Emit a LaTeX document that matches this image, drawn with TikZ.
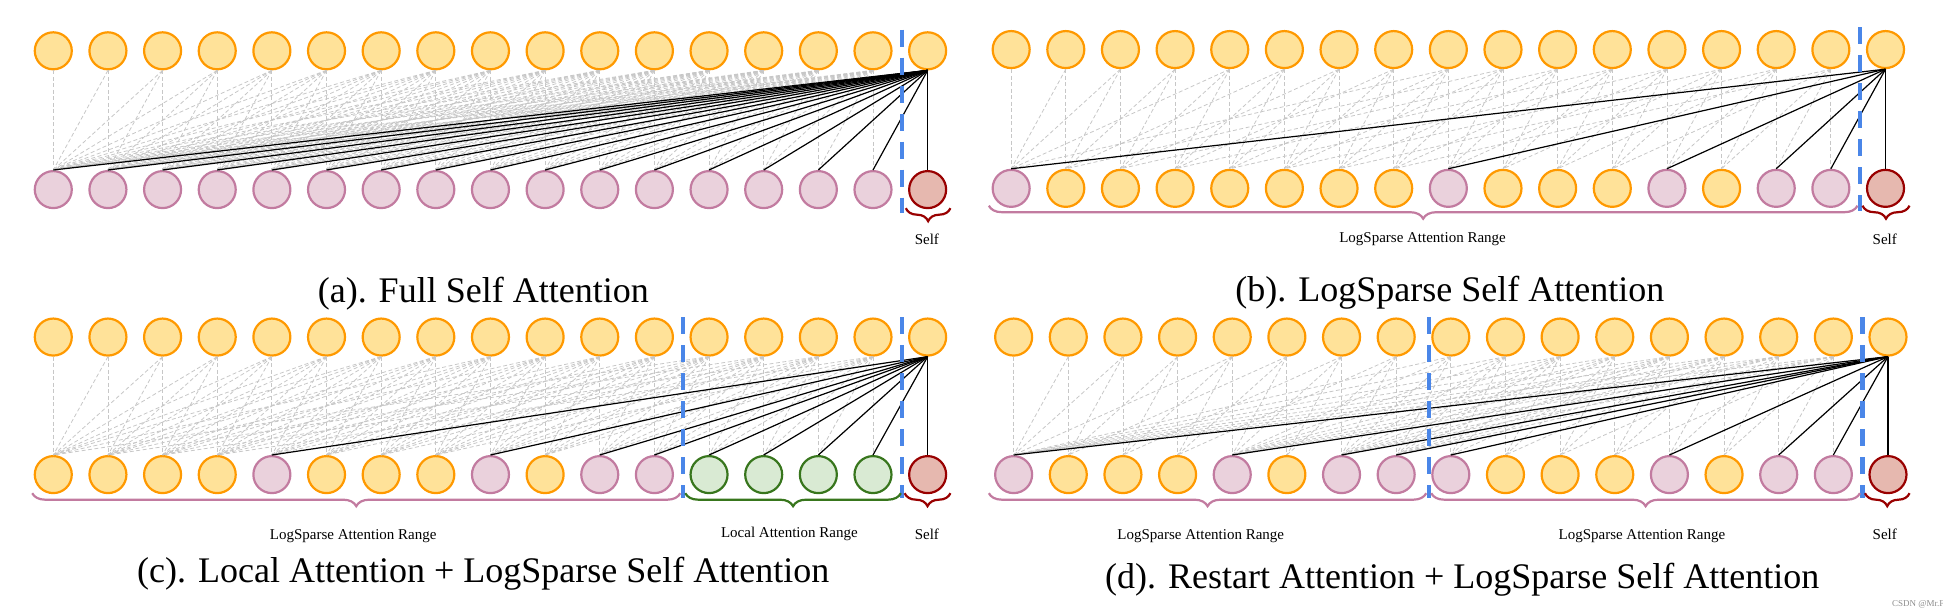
\documentclass[tikz,border=0pt]{standalone}
\usepackage{fontspec}
\setmainfont{Liberation Serif}
\usetikzlibrary{decorations.pathreplacing}
\definecolor{oF}{HTML}{FFE299}\definecolor{oD}{HTML}{FF9900}
\definecolor{pF}{HTML}{EAD1DC}\definecolor{pD}{HTML}{C27BA0}
\definecolor{gF}{HTML}{D9EAD3}\definecolor{gD}{HTML}{38761D}
\definecolor{sF}{HTML}{E6B8AF}\definecolor{sD}{HTML}{990000}
\definecolor{bl}{HTML}{4A86E8}
\tikzset{
 base/.style={circle,minimum size=37pt,inner sep=0pt,line width=2.2pt},
 nO/.style={base,fill=oF,draw=oD},
 nP/.style={base,fill=pF,draw=pD},
 nG/.style={base,fill=gF,draw=gD},
 nS/.style={base,fill=sF,draw=sD},
 gray edge/.style={draw=black!22,line width=0.8pt,dash pattern=on 4pt off 2.5pt},
 black edge/.style={draw=black,line width=1.2pt},
 bluedash/.style={draw=bl,line width=4.3pt,dash pattern=on 17pt off 11pt},
 br/.style={decorate,decoration={brace,mirror,amplitude=13pt},line width=2.2pt},
 lab/.style={font=\fontsize{15}{17}\selectfont},
 captext/.style={font=\fontsize{36}{40}\selectfont}
}
\newcommand\mkpanel[5]{%
 \foreach \c in {0,...,16}{\node[nO] (#1t\c) at ({#2+44.1*\c},#3) {};}
 \foreach \s [count=\c from 0] in {#5}{\node[n\s] (#1b\c) at ({#2+44.1*\c},#4) {};}
}
\begin{document}
\begin{tikzpicture}[x=1.2392pt,y=-1.2392pt]
\useasboundingbox (0,0) rectangle (1568,495.5);
% ---------- (a)
\mkpanel{a}{43}{41}{153}{P,P,P,P,P,P,P,P,P,P,P,P,P,P,P,P,S}
\foreach \i in {0,...,15}{\foreach \j in {0,...,\i}{\draw[gray edge] (at\i.south) -- (ab\j.north);}}
\foreach \j in {0,...,16}{\draw[black edge] (at16.south) -- (ab\j.north);}
% ---------- (b)
\mkpanel{b}{816}{40}{152}{P,O,O,O,O,O,O,O,P,O,O,O,P,O,P,P,S}
\foreach \i in {0,...,15}{\foreach \k in {0,1,2,4,8,16}{%
  \pgfmathtruncatemacro\j{\i-\k}\ifnum\j>-1 \draw[gray edge] (bt\i.south) -- (bb\j.north);\fi}}
\foreach \j in {0,8,12,14,15,16}{\draw[black edge] (bt16.south) -- (bb\j.north);}
% ---------- (c)
\mkpanel{c}{43}{272}{383}{O,O,O,O,P,O,O,O,P,O,P,P,G,G,G,G,S}
\foreach \i in {0,...,15}{\foreach \k in {0,1,2,3,4,5,6,8,12}{%
  \pgfmathtruncatemacro\j{\i-\k}\ifnum\j>-1 \draw[gray edge] (ct\i.south) -- (cb\j.north);\fi}}
\foreach \j in {4,8,10,11,12,13,14,15,16}{\draw[black edge] (ct16.south) -- (cb\j.north);}
% ---------- (d)
\mkpanel{d}{818}{272}{383}{P,O,O,O,P,O,P,P,P,O,O,O,P,O,P,P,S}
\foreach \i in {0,...,15}{%
  \pgfmathtruncatemacro\lo{\i>7?8:0}%
  \foreach \k in {0,1,2,4,8}{%
   \pgfmathtruncatemacro\j{\i-\k}\ifnum\j<\lo\else \draw[gray edge] (dt\i.south) -- (db\j.north);\fi}%
  \ifnum\i>7 \foreach \j in {0,4,6,7}{\draw[gray edge] (dt\i.south) -- (db\j.north);}\fi}
\foreach \j in {0,4,6,7,8,12,14,15,16}{\draw[black edge] (dt16.south) -- (db\j.north);}
% ---------- dashed separators
\draw[bluedash] (728,24) -- (728,172);
\draw[bluedash] (1501,22) -- (1501,170);
\draw[bluedash] (551,256) -- (551,402);
\draw[bluedash] (728,256) -- (728,402);
\draw[bluedash] (1153,256) -- (1153,402);
\draw[bluedash] (1503,256) -- (1503,402);
% ---------- braces and labels
\draw[br,draw=sD] (731,168) -- (767,168);
\node[lab] (la) at (748,193) {Self};
\draw[br,draw=pD] (798,166) -- (1499,166);
\node[lab] (lb1) at (1148,193) {LogSparse Attention Range};
\draw[br,draw=sD] (1503,166) -- (1541,166);
\node[lab] (lb2) at (1521,193) {Self};
\draw[br,draw=pD] (26,398) -- (549,398);
\node[lab] (lc1) at (285,433) {LogSparse Attention Range};
\draw[br,draw=gD] (553,398) -- (727,398);
\node[lab] (lc2) at (637,431) {Local Attention Range};
\draw[br,draw=sD] (730,398) -- (767,398);
\node[lab] (lc3) at (748,431) {Self};
\draw[br,draw=pD] (798,398) -- (1151,398);
\node[lab] (ld1) at (969,433) {LogSparse Attention Range};
\draw[br,draw=pD] (1155,398) -- (1501,398);
\node[lab] (ld2) at (1325,433) {LogSparse Attention Range};
\draw[br,draw=sD] (1505,398) -- (1541,398);
\node[lab] (ld3) at (1521,431) {Self};
% ---------- captions
\node[captext] (ca) at (390,237) {(a). Full Self Attention};
\node[captext] (cb) at (1170,236) {(b). LogSparse Self Attention};
\node[captext] (cc) at (390,463) {(c). Local Attention + LogSparse Self Attention};
\node[captext] (cd) at (1180,468) {(d). Restart Attention + LogSparse Self Attention};
\node[font=\fontsize{9}{10}\selectfont,text=black!45] (wm) at (1548,488) {CSDN @Mr.F};
\end{tikzpicture}
\end{document}
